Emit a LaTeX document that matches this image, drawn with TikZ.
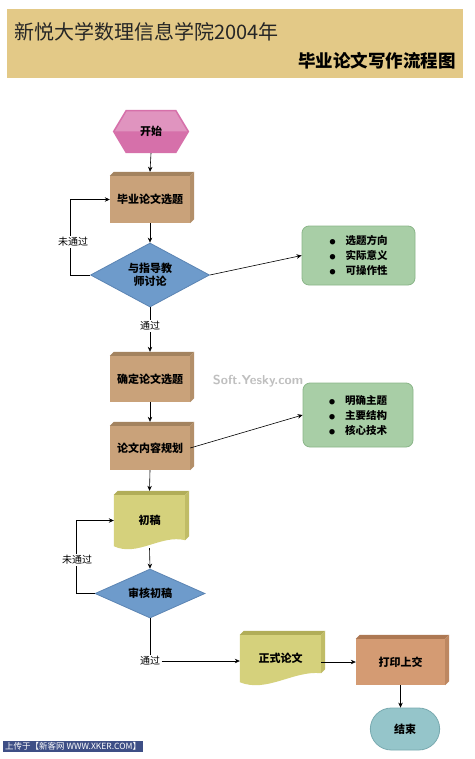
\documentclass[tikz,border=0pt]{standalone}
\usepackage{fontspec}
\newfontfamily\cjk{Noto Sans CJK SC}
\usetikzlibrary{shapes.geometric,shapes.misc,arrows.meta,calc,backgrounds}
\definecolor{band}{HTML}{E3C987}
\definecolor{tanF}{HTML}{C9A27A}
\definecolor{tanT}{HTML}{A3835F}
\definecolor{tanS}{HTML}{B38F69}
\definecolor{hexC}{HTML}{D670AA}
\definecolor{diaC}{HTML}{6E9BCB}
\definecolor{diaD}{HTML}{5B84B3}
\definecolor{grnC}{HTML}{A8CEA6}
\definecolor{grnD}{HTML}{8BB689}
\definecolor{docF}{HTML}{D5D17C}
\definecolor{docT}{HTML}{B1AD58}
\definecolor{docS}{HTML}{C0BC66}
\definecolor{orgF}{HTML}{D49B73}
\definecolor{orgT}{HTML}{AD7853}
\definecolor{orgS}{HTML}{BD8761}
\definecolor{endC}{HTML}{95C5CA}
\definecolor{endD}{HTML}{79AAB0}
\definecolor{footC}{HTML}{3E4F86}
\tikzset{
  arr/.style={-{Stealth[length=5pt,width=4.5pt]}, line width=0.6pt},
  ln/.style={line width=0.6pt},
  lbl/.style={font=\cjk\fontsize{10}{10}\selectfont, fill=white, inner sep=1.5pt},
  btxt/.style={font=\cjk\bfseries\fontsize{11}{13}\selectfont},
  frontbox/.style={rectangle, inner sep=0pt, btxt},
  diabox/.style={diamond, aspect=1.86, inner sep=0pt, fill=diaC, draw=diaD, line width=0.8pt, btxt, align=center},
  gbox/.style={rectangle, rounded corners=7pt, fill=grnC, draw=grnD, line width=0.8pt,
     font=\cjk\bfseries\fontsize{10.5}{15}\selectfont, align=left, inner xsep=11pt, anchor=center}
}
\newcommand\sidefaces[3]{%
  \fill[#2] (#1.north west) -- ++(4,-4) -- ($(#1.north east)+(4,-4)$) -- (#1.north east) -- cycle;
  \fill[#3] (#1.north east) -- ++(4,-4) -- ($(#1.south east)+(4,-4)$) -- (#1.south east) -- cycle;}
\newcommand\docfaces[5]{% name, front, top, side, right rise
  \fill[#2] (#1.north west) -- (#1.north east) -- ($(#1.south east)+(0,-#5)$)
     .. controls ($(#1.south west)!0.66!(#1.south east)+(0,-12)$) and ($(#1.south west)!0.33!(#1.south east)+(0,11)$) .. (#1.south west) -- cycle;
  \fill[#3] (#1.north west) -- ++(4,-4) -- ($(#1.north east)+(4,-4)$) -- (#1.north east) -- cycle;
  \fill[#4] (#1.north east) -- ++(4,-4) -- ($(#1.south east)+(4,-#5-4)$) -- ($(#1.south east)+(0,-#5)$) -- cycle;}
\newcommand\bul{{\fontsize{6}{6}\selectfont ●}\hspace{10pt}}
\begin{document}
\begin{tikzpicture}[x=1pt,y=-1pt]
\useasboundingbox (0,0) rectangle (474,759);

% nodes
\node[anchor=west, inner sep=0pt, text=black!85, font=\cjk\fontsize{20}{20}\selectfont] (title) at (14,32) {新悦大学数理信息学院2004年};
\node[anchor=east, inner sep=0pt, font=\cjk\bfseries\fontsize{17.5}{18}\selectfont] (subtitle) at (456,61) {毕业论文写作流程图};
\node[frontbox, minimum width=76pt, minimum height=43pt] (start) at (151,131.5) {开始};
\node[frontbox, fill=tanF, minimum width=80pt, minimum height=47pt] (b1) at (150,199.5) {毕业论文选题};
\node[diabox, minimum width=119pt, minimum height=64pt] (d1) at (150,275) {与指导教\\师讨论};
\node[gbox, minimum width=113pt, minimum height=59pt] (g1) at (358.5,255.5) {\bul 选题方向\\\bul 实际意义\\\bul 可操作性};
\node[frontbox, fill=tanF, minimum width=80pt, minimum height=46pt] (b2) at (150,379) {确定论文选题};
\node[frontbox, fill=tanF, minimum width=80pt, minimum height=44pt] (b3) at (150,448) {论文内容规划};
\node[gbox, minimum width=110pt, minimum height=64pt] (g2) at (358,415) {\bul 明确主题\\\bul 主要结构\\\bul 核心技术};
\node[frontbox, minimum width=71pt, minimum height=51pt] (doc1) at (149.5,520.5) {初稿};
\node[diabox, minimum width=110pt, minimum height=49pt] (d2) at (150,593.5) {审核初稿};
\node[frontbox, minimum width=81pt, minimum height=47pt] (doc2) at (280.5,658.5) {\raisebox{-3pt}{正式论文}};
\node[frontbox, fill=orgF, minimum width=89pt, minimum height=46pt] (b4) at (400.5,662) {打印上交};
\node[rounded rectangle, fill=endC, draw=endD, line width=0.8pt, minimum width=76pt, minimum height=42pt, btxt] (end) at (405,729) {结束};

% watermark and footer
\node[font=\sffamily\bfseries\fontsize{13}{13}\selectfont, text=black!25] (wm) at (258,381) {Soft.Yesky.com};
\node[anchor=west, fill=footC, text=white, inner xsep=2pt, inner ysep=1.5pt, font=\cjk\fontsize{8.5}{9}\selectfont] (foot) at (3,746.5) {上传于【新客网 WWW.XKER.COM】};

\begin{scope}[on background layer]
  \fill[white] (0,0) rectangle (474,759);
  \fill[band] (7,9) rectangle (463,78);
  \fill[hexC] (start.west) -- ($(start.north west)+(13,0)$) -- ($(start.north east)+(-13,0)$) -- (start.east)
     -- ($(start.south east)+(-13,0)$) -- ($(start.south west)+(13,0)$) -- cycle;
  \fill[hexC!75!white] ($(start.west)+(2,0)$) -- ($(start.north west)+(14,1.5)$) -- ($(start.north east)+(-14,1.5)$) -- ($(start.east)+(-2,0)$) -- cycle;
  \sidefaces{b1}{tanT}{tanS}
  \sidefaces{b2}{tanT}{tanS}
  \sidefaces{b3}{tanT}{tanS}
  \sidefaces{b4}{orgT}{orgS}
  \docfaces{doc1}{docF}{docT}{docS}{6}
  \docfaces{doc2}{docF}{docT}{docS}{9}
\end{scope}

% connectors
\draw[arr] (start.south) -- ([yshift=4pt]b1.north);
\draw[arr] (b1.south) -- (d1.north);
\draw[arr] (d1.west) -- ++(-20,0) |- (b1.west);
\node[lbl] (fail1) at (73,242) {未通过};
\node[lbl] (pass1) at (150,326) {通过};
\draw[ln] (d1.south) -- (pass1.north);
\draw[arr] (pass1.south) -- ([yshift=4pt]b2.north);
\draw[arr] (d1.east) -- (g1.west);
\draw[arr] (b2.south) -- ([yshift=4pt]b3.north);
\draw[arr] (b3.east) -- (g2.west);
\draw[arr] (b3.south) -- ([yshift=4pt]doc1.north);
\draw[arr] ([yshift=-2pt]doc1.south) -- (d2.north);
\draw[arr] (d2.west) -- ++(-18,0) |- (doc1.west);
\node[lbl] (fail2) at (77,560) {未通过};
\node[lbl] (pass2) at (150,661) {通过};
\draw[ln] (d2.south) -- (pass2.north);
\draw[arr] (pass2.east) -- (pass2.east -| doc2.west);
\draw[arr] (b4.west -| doc2.east) -- (b4.west);
\draw[arr] (b4.south) -- (b4.south |- end.north);
\end{tikzpicture}
\end{document}
